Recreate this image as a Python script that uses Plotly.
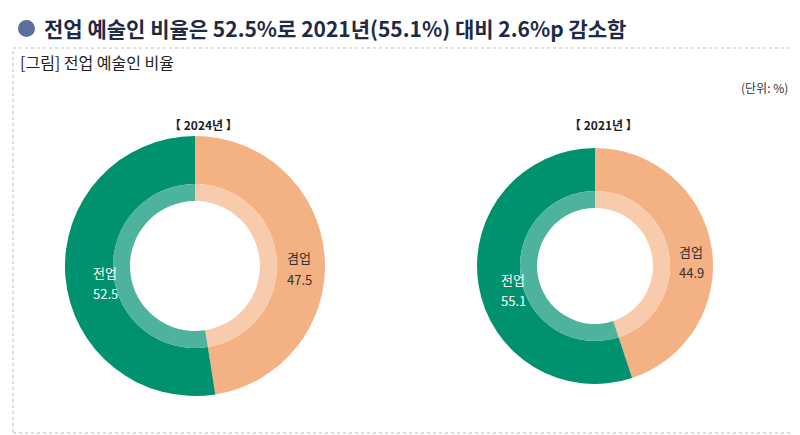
import plotly.graph_objects as go

labels = ['겸업', '전업']
values_2024 = [47.5, 52.5]
values_2021 = [44.9, 55.1]
years = ['【 2024년 】', '【 2021년 】']

W, H = 800, 435
outer_cols = ['#F4B183', '#00916E']
inner_cols = ['#F8CBAD', '#4DB39C']


def dom(cx, cy, r):
    return dict(x=[(cx - r) / W, (cx + r) / W], y=[(H - cy - r) / H, (H - cy + r) / H])


fig = go.Figure()
# centres nudged to offset plotly's small pie padding
for vals, cx, cy, ro, ri, rh in [(values_2024, 187, 258, 130, 82, 65),
                                 (values_2021, 587, 258, 118, 75, 58)]:
    fig.add_trace(go.Pie(labels=labels, values=vals, hole=ri / ro, domain=dom(cx, cy, ro),
                         marker=dict(colors=outer_cols), sort=False, direction='clockwise',
                         rotation=0, textinfo='none', hoverinfo='label+value', showlegend=False))
    fig.add_trace(go.Pie(labels=labels, values=vals, hole=rh / ri, domain=dom(cx, cy, ri),
                         marker=dict(colors=inner_cols), sort=False, direction='clockwise',
                         rotation=0, textinfo='none', hoverinfo='skip', showlegend=False))

ann = []


def txt(x, y, t, size=13, color='#333', bold=False, xanchor='center'):
    ann.append(dict(x=x / W, y=1 - y / H, xref='paper', yref='paper', text=f'<b>{t}</b>' if bold else t,
                    showarrow=False, font=dict(size=size, color=color), xanchor=xanchor, yanchor='middle'))


txt(34, 20, '전업 예술인 비율은 52.5%로 2021년(55.1%) 대비 2.6%p 감소함', 21, '#1F2A44', True, 'left')
txt(10, 54, '[그림] 전업 예술인 비율', 16, '#222', False, 'left')
txt(782, 79, '(단위: %)', 12, '#333', False, 'right')
txt(195, 117, years[0], 12, '#222', True)
txt(595, 117, years[1], 12, '#222', True)
txt(97, 264, '전업', 13, 'white')
txt(97, 285, '52.5', 13, 'white')
txt(291, 250, '겸업', 13, '#333')
txt(291, 271, '47.5', 13, '#333')
txt(505, 271, '전업', 13, 'white')
txt(505, 292, '55.1', 13, 'white')
txt(683, 243, '겸업', 13, '#333')
txt(683, 264, '44.9', 13, '#333')

fig.update_layout(
    width=W, height=H, margin=dict(l=0, r=0, t=0, b=0),
    paper_bgcolor='white', plot_bgcolor='white',
    font=dict(family='Noto Sans CJK KR'),
    annotations=ann,
    shapes=[
        dict(type='circle', xref='paper', yref='paper', x0=10 / W, x1=27 / W, y0=1 - 29 / H, y1=1 - 12 / H,
             fillcolor='#5B6F9E', line=dict(width=0)),
        dict(type='rect', xref='paper', yref='paper', x0=5 / W, x1=795 / W, y0=1 - 425 / H, y1=1 - 40 / H,
             line=dict(color='#BBBBBB', width=1, dash='dot')),
    ],
)
fig.write_html('out.html')
